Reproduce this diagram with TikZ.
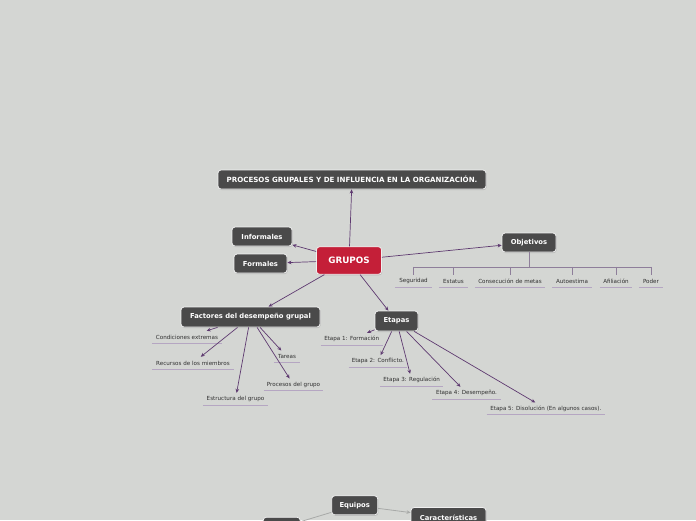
\documentclass[tikz,border=0pt]{standalone}
\usepackage{fontspec}
\setmainfont{DejaVu Sans}
\usetikzlibrary{arrows.meta,shadows,calc}
\definecolor{bg}{HTML}{D4D6D3}
\definecolor{nodefill}{HTML}{4A4A4A}
\definecolor{nodeborder}{HTML}{F0F0F0}
\definecolor{grupofill}{HTML}{C41F38}
\definecolor{conn}{HTML}{5E3A70}
\definecolor{treec}{HTML}{8E7E9A}
\definecolor{uline}{HTML}{B5A6C2}
\definecolor{labtext}{HTML}{303030}
\definecolor{grayconn}{HTML}{A8AAA8}
\begin{document}
\begin{tikzpicture}[x=1pt,y=-1pt,
  box/.style={draw=nodeborder, line width=0.8pt, fill=nodefill, rounded corners=3pt,
    text=white, font=\bfseries\fontsize{6.8}{8}\selectfont, inner sep=0pt,
    drop shadow={shadow xshift=0.6pt, shadow yshift=-1pt, opacity=0.35}},
  centre/.style={box, fill=grupofill, font=\bfseries\fontsize{8.8}{10}\selectfont},
  lab/.style={font=\fontsize{5.6}{6}\selectfont, text=labtext, inner sep=0pt, minimum height=12pt},
  ul/.style={draw=uline, line width=1.1pt},
  arr/.style={draw=conn, line width=0.7pt, -{Stealth[length=4pt,width=3.6pt]}},
  tree/.style={draw=treec, line width=0.8pt},
  garr/.style={draw=grayconn, line width=0.8pt, -{Stealth[length=4pt,width=3.6pt]}},
  gline/.style={draw=grayconn, line width=0.8pt}
]
\useasboundingbox (0,0) rectangle (696,520);
\fill[bg] (0,0) rectangle (696,520);
\clip (0,0) rectangle (696,520);

% main nodes
\node[box, minimum width=268pt, minimum height=19pt, font=\bfseries\fontsize{7.1}{8}\selectfont] (title) at (352,179.5) {PROCESOS GRUPALES Y DE INFLUENCIA EN LA ORGANIZACIÓN.};
\node[centre, minimum width=65pt, minimum height=27.5pt] (grupos) at (349,260.5) {GRUPOS};
\node[box, minimum width=60pt, minimum height=19pt] (inf) at (262,236.5) {Informales};
\node[box, minimum width=53pt, minimum height=19pt] (for) at (260.5,263.5) {Formales};
\node[box, minimum width=54pt, minimum height=19pt] (obj) at (529,242.5) {Objetivos};
\node[box, minimum width=139pt, minimum height=20pt] (fac) at (250.5,317) {Factores del desempeño grupal};
\node[box, minimum width=43pt, minimum height=20pt] (eta) at (396.5,321) {Etapas};
\node[box, minimum width=46pt, minimum height=19pt] (equ) at (354.7,505.3) {Equipos};
\node[box, minimum width=75pt, minimum height=20pt] (car) at (448.5,517.5) {Características};
\node[box, minimum width=37pt, minimum height=20pt] (oth) at (281.7,527.3) {};

% objetivos labels
\node[lab, minimum width=37pt] (seg) at (413.5,281.3) {Seguridad};
\node[lab, minimum width=29pt] (est) at (453.5,281.3) {Estatus};
\node[lab, minimum width=70pt] (con) at (510,281.3) {Consecución de metas};
\node[lab, minimum width=40pt] (aut) at (572,281.3) {Autoestima};
\node[lab, minimum width=32pt] (afi) at (616,281.3) {Afiliación};
\node[lab, minimum width=24pt] (pod) at (651,281.3) {Poder};

% factores labels
\node[lab, minimum width=70pt] (cond) at (187,337) {Condiciones extremas};
\node[lab, minimum width=82pt] (rec) at (193,363) {Recursos de los miembros};
\node[lab, minimum width=65pt] (estr) at (235.5,399) {Estructura del grupo};
\node[lab, minimum width=26pt] (tar) at (287,356.7) {Tareas};
\node[lab, minimum width=59pt] (proc) at (293.5,384.7) {Procesos del grupo};

% etapas labels
\node[lab, minimum width=62pt] (e1) at (351.7,339) {Etapa 1: Formación};
\node[lab, minimum width=58pt] (e2) at (377.8,361.3) {Etapa 2: Conflicto.};
\node[lab, minimum width=63pt] (e3) at (411.7,380) {Etapa 3: Regulación};
\node[lab, minimum width=68pt] (e4) at (466.5,393) {Etapa 4: Desempeño.};
\node[lab, minimum width=118pt] (e5) at (545.8,408.7) {Etapa 5: Disolución (En algunos casos).};

% underlines
\foreach \n in {seg,est,con,aut,afi,pod,cond,rec,estr,tar,proc,e1,e2,e3,e4,e5}
  \draw[ul] (\n.south west) -- (\n.south east);

% connectors from GRUPOS
\draw[arr] (grupos) -- (title);
\draw[arr] (grupos) -- (inf);
\draw[arr] (grupos) -- (for);
\draw[arr] (grupos) -- (obj);
\draw[arr] (grupos) -- (fac);
\draw[arr] (grupos) -- (eta);

% objetivos tree
\coordinate (bus) at ($(obj.south)+(0,14.5)$);
\draw[tree] (obj.south) -- (bus);
\draw[tree] (seg.north |- bus) -- (pod.north |- bus);
\foreach \n in {seg,est,con,aut,afi,pod}
  \draw[tree] (\n.north |- bus) -- (\n.north);

% factores
\foreach \n in {cond,rec,estr,tar,proc}
  \draw[arr] (fac) -- (\n);
% etapas
\foreach \n in {e1,e2,e3,e4,e5}
  \draw[arr] (eta) -- (\n);

% bottom
\draw[garr] (equ) -- (car);
\draw[gline] (equ) -- (oth);
\end{tikzpicture}
\end{document}
